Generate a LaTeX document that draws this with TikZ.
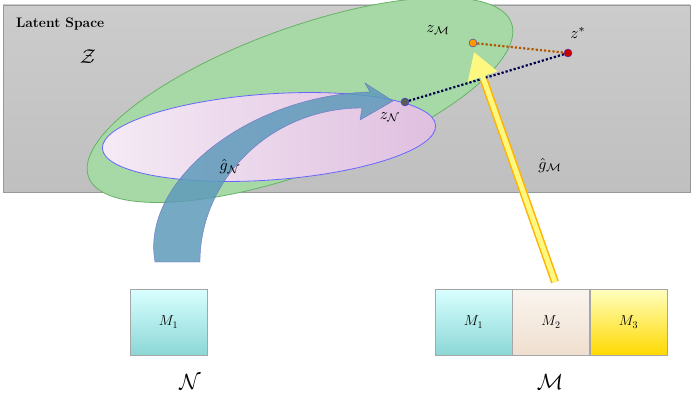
\documentclass[tikz,border=0pt]{standalone}
\usetikzlibrary{arrows.meta,calc}
\begin{document}
\begin{tikzpicture}[x=1pt,y=-1pt,
 lbl/.style={scale=1.6},
 mbox/.style={draw=gray!70,minimum width=77pt,minimum height=66pt,inner sep=0pt,font=\Large},
 dotn/.style={circle,inner sep=0pt,minimum size=8pt,draw=blue!60!gray}]
\useasboundingbox (0,0) rectangle (696,401);
\fill[top color=gray!40,bottom color=gray!50,draw=gray!80] (3,5) rectangle (690,192);
\draw[green!50!black!60,fill=green!40!gray!50,line width=0.8pt] (300,100) ellipse[x radius=225,y radius=72,rotate=20];
\draw[blue!60,left color=violet!8,right color=violet!25,line width=0.8pt] (269,137) ellipse[x radius=167,y radius=43,rotate=4];
\node[font=\bfseries\large,scale=1.15,anchor=west] (lt) at (12,24) {Latent Space};
\node[scale=2] (Z) at (88,57) {$\mathcal{Z}$};
% blue curved arrow
\fill[blue!35!cyan!40!gray!90,draw=blue!50!gray!80,opacity=0.85] (155,262) .. controls (140,180) and (250,95) .. (370,92) -- (365,83) -- (393,101) -- (360,120) -- (362,108) .. controls (270,108) and (200,180) .. (200,262) -- cycle;
% nodes
\node[dotn,fill=gray!40!black!80] (zn) at (405,102) {};
\node[dotn,fill=orange!80!yellow] (zm) at (473,43) {};
\node[dotn,fill=red!80!black] (zs) at (568,53) {};
\draw[blue!30!black,dotted,line width=2.2pt] (zn) -- (zs);
\draw[orange!70!black,dotted,line width=2.2pt] (zm) -- (zs);
\node[lbl] (lzm) at (438,30) {$z_{\mathcal{M}}$};
\node[lbl] (lzs) at (578,33) {$z^*$};
\node[lbl] (lzn) at (390,117) {$z_{\mathcal{N}}$};
\node[lbl] (lgn) at (230,167) {$\hat g_{\mathcal{N}}$};
\node[lbl] (lgm) at (550,165) {$\hat g_{\mathcal{M}}$};
% yellow arrow
\coordinate (ys) at (555,282);
\coordinate (ye) at (474,52);
\draw[orange!60!yellow,line width=8pt] (ys) -- ($(ys)!0.88!(ye)$);
\draw[yellow!50,line width=5pt,-{Triangle[length=26pt,width=30pt]}] (ys) -- (ye);
% boxes
\node[mbox,top color=cyan!15,bottom color=cyan!30!teal!45] (n1) at (168.5,322) {$M_1$};
\node[mbox,top color=cyan!15,bottom color=cyan!30!teal!45] (m1) at (473.5,322) {$M_1$};
\node[mbox,top color=brown!8,bottom color=brown!25] (m2) at (551,322) {$M_2$};
\node[mbox,top color=yellow!25,bottom color=yellow!70!orange] (m3) at (628.5,322) {$M_3$};
\node[scale=2.2] (N) at (190,382) {$\mathcal{N}$};
\node[scale=2.2] (M) at (550,382) {$\mathcal{M}$};
\end{tikzpicture}
\end{document}
